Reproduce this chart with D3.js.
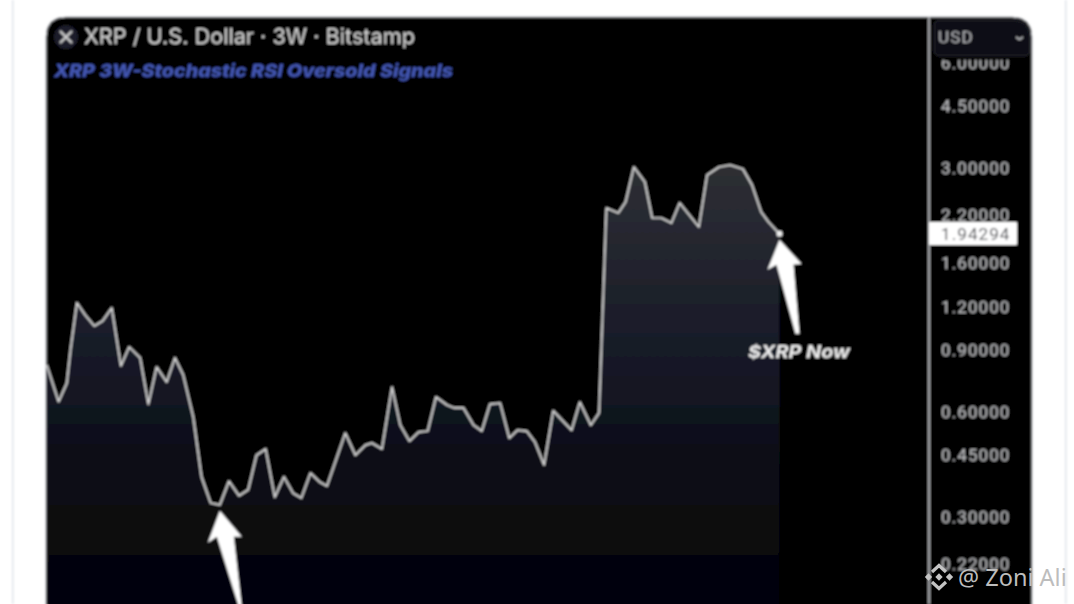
<!DOCTYPE html>
<html><head><meta charset="utf-8">
<script src="https://cdn.jsdelivr.net/npm/d3@7/dist/d3.min.js"></script>
<style>html,body{margin:0;padding:0;background:#fff;overflow:hidden}svg{display:block}</style>
</head><body><svg id="c" width="1074" height="604"></svg>
<script>
const bars=[0,1.3,2.2,2.6,3.3,4.2,5.2,6.1,7.1,8.1,9.0,10.2,11.1,12.0,13.1,14.0,14.9,16.0,16.9,17.9,18.9,19.9,21.0,22.0,22.9,23.9,24.9,25.9,26.9,27.8,28.8,29.8,30.6,32.6,33.7,34.8,35.5,36.6,37.7,38.6,39.6,40.6,41.6,42.5,43.7,44.5,45.5,46.6,47.5,48.4,49.5,50.5,51.4,52.4,53.3,54.3,55.3,57.3,58.2,59.4,60.3,61.1,62.4,63.2,64.1,65.3,66.1,67.1,68.2,69.1,71.2,72.1,73.4,74.6,76.0,77.0,78.0,78.8,80];
const prices=[.818,.642,.726,.903,1.232,1.138,1.058,1.093,1.192,.813,.921,.857,.632,.807,.731,.857,.766,.580,.391,.329,.325,.380,.345,.359,.451,.470,.342,.391,.351,.340,.401,.378,.368,.522,.451,.482,.489,.470,.707,.550,.495,.525,.529,.662,.628,.616,.616,.550,.529,.632,.636,.505,.532,.529,.492,.423,.604,.532,.640,.550,.596,2.304,2.23,2.397,3.02,2.736,2.157,2.157,2.087,2.382,2.033,2.865,3.02,3.06,2.98,2.682,2.244,2.101,1.94294];
const priceTicks=[6,4.5,3,2.2,1.6,1.2,.9,.6,.45,.3,.22];
const titleText="XRP / U.S. Dollar · 3W · Bitstamp";
const subtitleText="XRP 3W-Stochastic RSI Oversold Signals";
const lastLabel="1.94294", currency="USD", nowLabel="$XRP Now", watermark="@ Zoni Ali";
const lowBar=18.9, lowPrice=.325;

const W=1074,H=604,L=46,R=1032,T=17,AX=929;
const svg=d3.select("#c");
const defs=svg.append("defs");
const soft=defs.append("filter").attr("id","soft").attr("filterUnits","userSpaceOnUse").attr("x",0).attr("y",0).attr("width",W).attr("height",H);
soft.append("feGaussianBlur").attr("stdDeviation",0.85);
const g=defs.append("linearGradient").attr("id","fill").attr("gradientUnits","userSpaceOnUse").attr("x1",0).attr("x2",0).attr("y1",165).attr("y2",604);
[[0,"#2e2f34"],[.25,"#21232d"],[.45,"#161927"],[.7,"#0b0c15"],[.88,"#07070d"],[1,"#040407"]].forEach(s=>g.append("stop").attr("offset",s[0]).attr("stop-color",s[1]));
defs.append("clipPath").attr("id","plot").append("rect").attr("x",L).attr("y",T).attr("width",AX-L).attr("height",H-T);

const root=svg.append("g").attr("filter","url(#soft)");
const x=d3.scaleLinear().domain([0,80]).range([46.7,779.5]);
const y=d3.scaleLog().domain([.3,3]).range([517,168]);
const rows=bars.map((b,i)=>({b,p:prices[i]}));

// page rails and panel
root.append("rect").attr("x",12).attr("y",0).attr("width",1.5).attr("height",H).attr("fill","#dfe3ea");
root.append("rect").attr("x",1065).attr("y",0).attr("width",1.5).attr("height",H).attr("fill","#dfe3ea");
root.append("path").attr("d",`M${L},${H+5}V${T+20}Q${L},${T} ${L+20},${T}H${R-20}Q${R},${T} ${R},${T+20}V${H+5}Z`)
  .attr("fill","#000").attr("stroke","#c9cbd0").attr("stroke-width",1);

// area and line
const plot=root.append("g").attr("clip-path","url(#plot)");
plot.append("path").datum(rows).attr("fill","url(#fill)")
  .attr("d",d3.area().x(d=>x(d.b)).y0(H).y1(d=>y(d.p)));
plot.append("path").datum(rows).attr("fill","none").attr("stroke","#dcdcdc").attr("stroke-width",1.7).attr("stroke-linejoin","round")
  .attr("d",d3.line().x(d=>x(d.b)).y(d=>y(d.p)));
const last=rows[rows.length-1];
plot.append("circle").attr("cx",x(last.b)).attr("cy",y(last.p)).attr("r",3).attr("fill","#eee");

// axis
const axis=d3.axisRight(y).tickValues(priceTicks).tickFormat(d3.format(".5f")).tickSize(0).tickPadding(12);
const ag=root.append("g").attr("transform",`translate(${AX},0)`).call(axis);
ag.select(".domain").remove();
ag.selectAll("text").attr("fill","#c2c3c6").attr("font-family","Roboto, sans-serif").attr("font-size",17).attr("letter-spacing",1.1);
root.append("rect").attr("x",AX-1).attr("y",T).attr("width",2.2).attr("height",H-T).attr("fill","#a2a4a8");

// price label
root.append("rect").attr("x",AX).attr("y",222).attr("width",88).attr("height",23).attr("rx",1).attr("fill","#fff");
root.append("text").attr("x",AX+12).attr("y",y(last.p)+6).attr("fill","#55565a").attr("font-family","Roboto, sans-serif").attr("font-size",17).attr("letter-spacing",1.1).text(lastLabel);

// currency button, with the strip below it that hides the top of the uppermost tick label
root.append("path").attr("d",`M${AX+1.2},${T+1}H${R-20}Q${R-1},${T+1} ${R-1},${T+20}V60H${AX+1.2}Z`).attr("fill","#000");
root.append("path").attr("d","M934,27Q934,20 941,20H1012Q1030,20 1030,38V49Q1030,56 1023,56H941Q934,56 934,49Z").attr("fill","#0e0e14").attr("stroke","#2b2c38");
root.append("text").attr("x",938).attr("y",43).attr("fill","#b4b5b9").attr("font-family","Roboto, sans-serif").attr("font-size",17).attr("letter-spacing",1.2).text(currency);
root.append("path").attr("d","M1016,37l3.5,2.5l3.5,-2.5").attr("fill","none").attr("stroke","#b4b5b9").attr("stroke-width",1.6);

// title block
root.append("circle").attr("cx",66).attr("cy",37).attr("r",12).attr("fill","#1b1e2a");
root.append("path").attr("d","M60,31L72,43M72,31L60,43").attr("stroke","#cfcfcf").attr("stroke-width",2.2);
root.append("text").attr("x",84).attr("y",44).attr("fill","#d6d6d6").attr("font-family","Inter, sans-serif").attr("font-size",21).attr("font-weight",400).attr("textLength",331).attr("lengthAdjust","spacingAndGlyphs").text(titleText);
root.append("text").attr("x",54).attr("y",77).attr("fill","#4357b4").attr("font-family","Inter, sans-serif").attr("font-weight",800).attr("font-style","italic").attr("font-size",17.5).attr("textLength",399).attr("lengthAdjust","spacingAndGlyphs").text(subtitleText);

// arrows, anchored to the price points they mark
const arrow=(bx,py,shape)=>root.append("polygon").attr("fill","#fff")
  .attr("points",shape.map(o=>[x(bx)+o[0],y(py)+o[1]].join(",")).join(" "));
arrow(lowBar,lowPrice,[[0,6],[22,32],[14,32],[22,102],[19,102],[-3,32],[-12,38]]);
arrow(last.b,last.p,[[0,6],[22,30],[14,31],[20,100],[16,100],[-3,31],[-12,36]]);
root.append("text").attr("x",799).attr("y",358).attr("text-anchor","middle").attr("fill","#eee").attr("font-family","Inter, sans-serif").attr("font-weight",700).attr("font-style","italic").attr("font-size",17).attr("textLength",102).attr("lengthAdjust","spacingAndGlyphs").text(nowLabel);

// watermark, sharper than the photographed chart
const wm=svg.append("g");
const logo=wm.append("g").attr("transform","translate(939,577)");
logo.append("path").attr("d","M-7,-5L0,-11.5L7,-5M-7,5L0,11.5L7,5").attr("fill","none").attr("stroke","#c4c4c4").attr("stroke-width",3.2);
logo.selectAll("rect").data([-10.5,0,10.5]).join("rect").attr("x",d=>d-2.6).attr("y",-2.6).attr("width",5.2).attr("height",5.2)
  .attr("fill","#c4c4c4").attr("transform",d=>`rotate(45 ${d} 0)`);
wm.append("text").attr("x",958).attr("y",586).attr("fill","#bdbdbd").attr("font-family","'Noto Sans', sans-serif").attr("font-size",23.5).text(watermark);
</script></body></html>
